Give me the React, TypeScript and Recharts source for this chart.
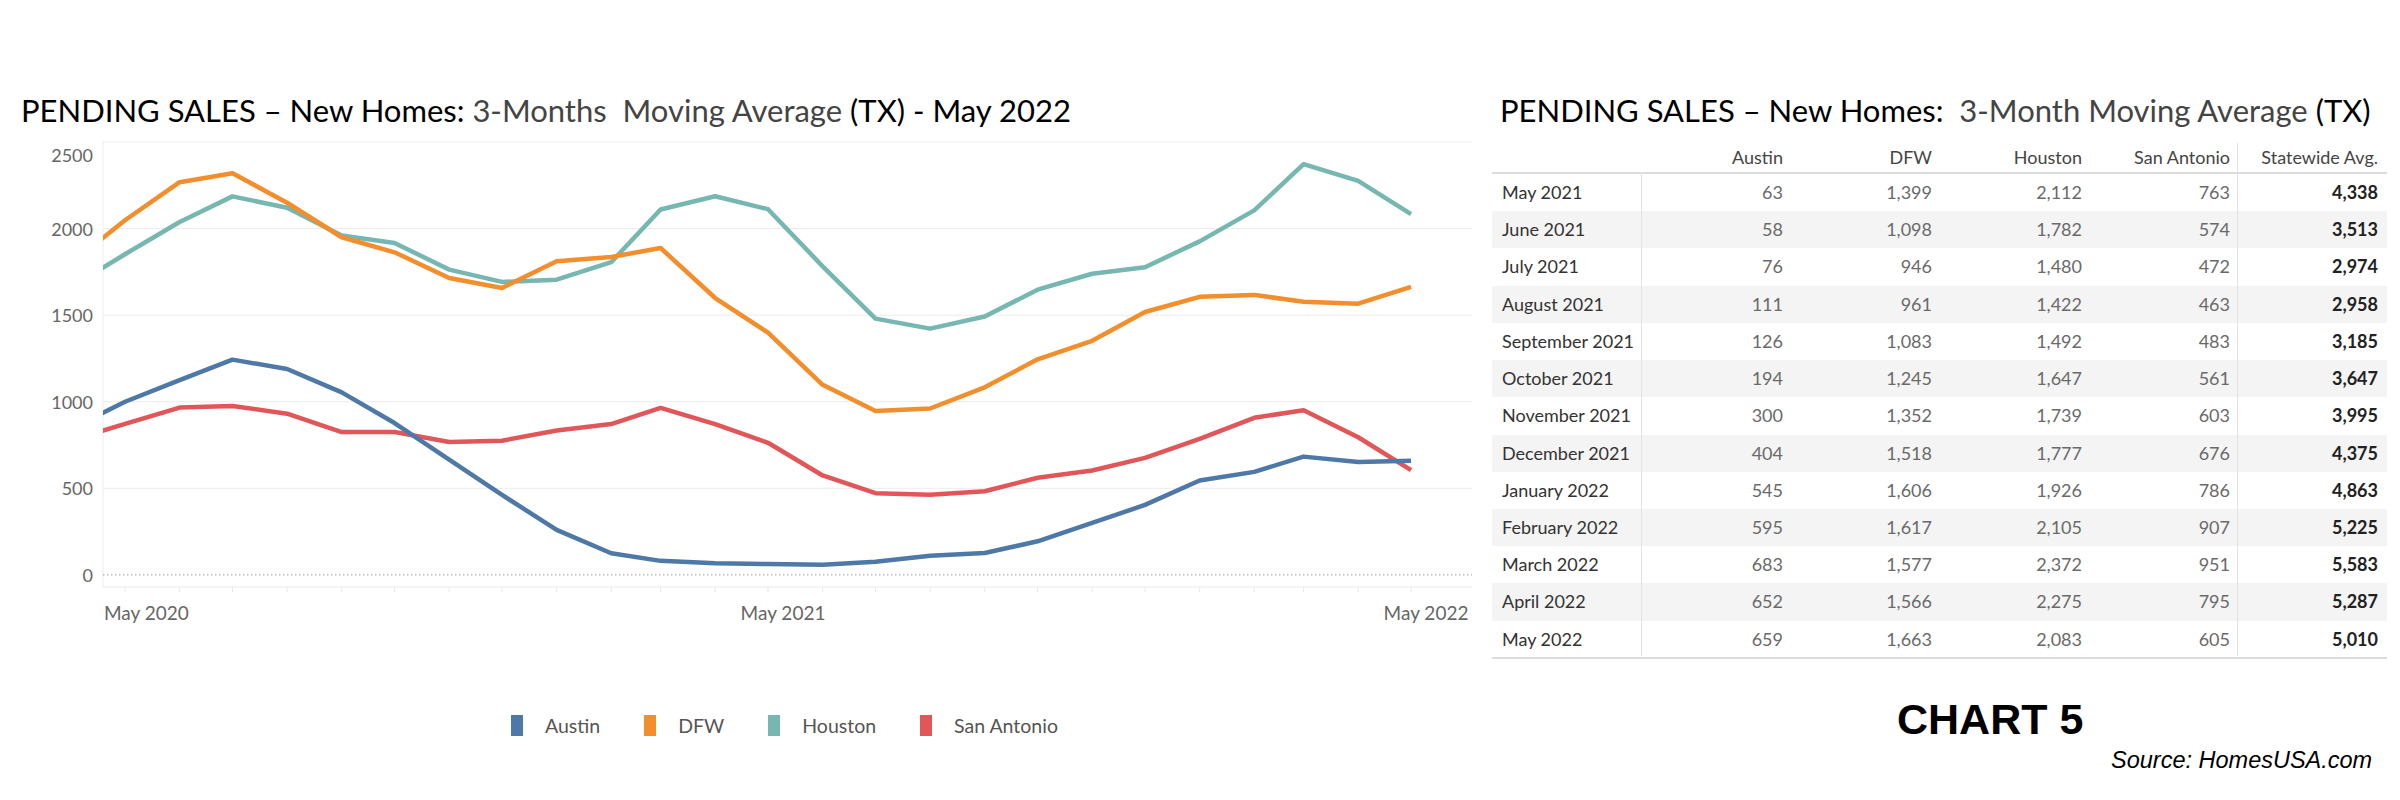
import React from 'react';
import { LineChart, Line, XAxis, YAxis, CartesianGrid, ReferenceLine } from 'recharts';

// monthly 3-month moving averages, Apr 2020 .. May 2022 (Apr 2020 sits just off the left edge)
const months = [
  '2020-04', '2020-05', '2020-06', '2020-07', '2020-08', '2020-09', '2020-10', '2020-11', '2020-12',
  '2021-01', '2021-02', '2021-03', '2021-04', '2021-05', '2021-06', '2021-07', '2021-08', '2021-09',
  '2021-10', '2021-11', '2021-12', '2022-01', '2022-02', '2022-03', '2022-04', '2022-05',
];
const austin = [848, 1000, 1125, 1243, 1189, 1054, 877, 665, 462, 260, 125, 81, 67, 63, 58, 76, 111, 126, 194, 300, 404, 545, 595, 683, 652, 659];
const dfw = [1803, 2048, 2268, 2320, 2149, 1950, 1863, 1715, 1657, 1811, 1836, 1888, 1599, 1399, 1098, 946, 961, 1083, 1245, 1352, 1518, 1606, 1617, 1577, 1566, 1663];
const houston = [1667, 1852, 2038, 2186, 2120, 1960, 1917, 1763, 1692, 1705, 1806, 2110, 2187, 2112, 1782, 1480, 1422, 1492, 1647, 1739, 1777, 1926, 2105, 2372, 2275, 2083];
const sanAntonio = [778, 872, 966, 975, 931, 825, 825, 767, 775, 834, 871, 964, 871, 763, 574, 472, 463, 483, 561, 603, 676, 786, 907, 951, 795, 605];

const yTicks = [0, 500, 1000, 1500, 2000, 2500];
const xLabelMonths = ['2020-05', '2021-05', '2022-05'];
const xLabels = ['May 2020', 'May 2021', 'May 2022'];

// table on the right (last 13 months)
const tableMonths = [
  'May 2021', 'June 2021', 'July 2021', 'August 2021', 'September 2021', 'October 2021',
  'November 2021', 'December 2021', 'January 2022', 'February 2022', 'March 2022', 'April 2022', 'May 2022',
];
const tableHeaders = ['Austin', 'DFW', 'Houston', 'San Antonio', 'Statewide Avg.'];
const statewide = [4338, 3513, 2974, 2958, 3185, 3647, 3995, 4375, 4863, 5225, 5583, 5287, 5010];

const series = [
  { key: 'sanAntonio', name: 'San Antonio', color: '#e15759', values: sanAntonio },
  { key: 'houston', name: 'Houston', color: '#76b7b2', values: houston },
  { key: 'dfw', name: 'DFW', color: '#f28e2b', values: dfw },
  { key: 'austin', name: 'Austin', color: '#4e79a7', values: austin },
];
const legendOrder = ['austin', 'dfw', 'houston', 'sanAntonio'];

const DAY = 86400000;
const toDay = (m: string) => {
  const [y, mo] = m.split('-').map(Number);
  return Date.UTC(y, mo - 1, 1) / DAY;
};

const data = months.map((m, i) => {
  const row: any = { t: toDay(m) };
  series.forEach((s) => { row[s.key] = s.values[i]; });
  return row;
});

const xDomain = [toDay('2020-05') - 12.5, toDay('2022-05') + 34.6];
const xTicks = months.map(toDay).filter((t) => t >= xDomain[0]);

const FONT = 'Lato, "Noto Sans", sans-serif';
const fmt = (n: number) => n.toLocaleString('en-US');

const XTick = (props: any) => {
  const { x, payload } = props;
  const idx = xLabelMonths.findIndex((m) => toDay(m) === payload.value);
  if (idx < 0) return <g />;
  const first = idx === 0;
  return (
    <text x={first ? 104 : x + 15} y={612} textAnchor={first ? 'start' : 'middle'}
      dominantBaseline="central" fill="#666" fontSize={19} fontFamily={FONT}>
      {xLabels[idx]}
    </text>
  );
};

const YTick = (props: any) => {
  const { y, payload } = props;
  const top = payload.value === 2500;
  return (
    <text x={93} y={y + (top ? 13 : 0)} textAnchor="end" dominantBaseline="central"
      fill="#666" fontSize={18} fontFamily={FONT}>
      {payload.value}
    </text>
  );
};

const colW = [149, 149, 149, 150, 148, 150];
const ROW_H = 37.23;

const Table = () => {
  const tableCols = [austin, dfw, houston, sanAntonio].map((a) => a.slice(-13));
  const cell = (w: number, align: 'left' | 'right', pad: number): React.CSSProperties => ({
    width: w, boxSizing: 'border-box', textAlign: align,
    paddingLeft: align === 'left' ? pad : 0, paddingRight: align === 'right' ? pad : 0,
    whiteSpace: 'nowrap',
  });
  return (
    <div style={{ position: 'absolute', left: 1492, top: 143, width: 895, fontFamily: FONT, fontSize: 18 }}>
      <div style={{ display: 'flex', height: 29, lineHeight: '29px', color: '#444' }}>
        <div style={cell(colW[0], 'left', 10)} />
        {tableHeaders.map((h, i) => (
          <div key={h} style={cell(colW[i + 1], 'right', i === 4 ? 9 : 7)}>{h}</div>
        ))}
      </div>
      <div style={{ height: 2, background: '#dcdcdc' }} />
      {tableMonths.map((m, r) => (
        <div key={m} style={{
          display: 'flex', height: ROW_H, lineHeight: `${ROW_H}px`,
          background: r % 2 === 1 ? '#f4f4f4' : '#fff',
        }}>
          <div style={{ ...cell(colW[0], 'left', 10), color: '#333' }}>{m}</div>
          {tableCols.map((col, c) => (
            <div key={c} style={{ ...cell(colW[c + 1], 'right', 7), color: '#6a6a6a' }}>{fmt(col[r])}</div>
          ))}
          <div style={{ ...cell(colW[5], 'right', 9), color: '#222', fontWeight: 700 }}>{fmt(statewide[r])}</div>
        </div>
      ))}
      <div style={{ height: 2, background: '#dcdcdc', marginTop: -1 }} />
      <div style={{ position: 'absolute', left: colW[0], top: 29, width: 1, height: 484, background: '#e2e2e2' }} />
      <div style={{ position: 'absolute', left: 745, top: 0, width: 1, height: 513, background: '#e2e2e2' }} />
    </div>
  );
};

const Title = ({ left, parts }: { left: number; parts: [string, string][] }) => (
  <div style={{
    position: 'absolute', left, top: 90, height: 40, lineHeight: '40px',
    fontFamily: FONT, fontSize: 31, whiteSpace: 'pre',
  }}>
    {parts.map(([t, c], i) => <span key={i} style={{ color: c }}>{t}</span>)}
  </div>
);

export default function App() {
  return (
    <div style={{ position: 'absolute', left: 0, top: 0, width: 2400, height: 800, background: '#fff', overflow: 'hidden' }}>
      <Title left={21} parts={[
        ['PENDING SALES – New Homes: ', '#000'],
        ['3-Months  Moving Average', '#444'],
        [' (TX) - May 2022', '#000'],
      ]} />
      <Title left={1500} parts={[
        ['PENDING SALES – New Homes:  ', '#000'],
        ['3-Month Moving Average', '#444'],
        [' (TX)', '#000'],
      ]} />

      <div style={{ position: 'absolute', left: 0, top: 0 }}>
        <LineChart width={1500} height={660} data={data} margin={{ top: 142, right: 28, bottom: 13, left: 13 }}>
          <CartesianGrid vertical={false} horizontalValues={[500, 1000, 1500, 2000, 2500]} stroke="#ebebeb" />
          <XAxis dataKey="t" type="number" domain={xDomain} allowDataOverflow ticks={xTicks}
            height={60} tick={<XTick />} tickSize={5} tickLine={{ stroke: '#e8e8e8' }}
            axisLine={{ stroke: '#e8e8e8' }} interval={0} />
          <YAxis type="number" domain={[-70, 2500]} allowDataOverflow ticks={yTicks} width={90}
            tick={<YTick />} axisLine={false} tickLine={false} interval={0} />
          <ReferenceLine x={xDomain[0]} stroke="#ededed" />
          <ReferenceLine y={0} stroke="#9a9a9a" strokeDasharray="1.5 2.5" />
          {series.map((s) => (
            <Line key={s.key} dataKey={s.key} name={s.name} type="linear" stroke={s.color}
              strokeWidth={4.5} strokeLinejoin="round" dot={false} activeDot={false}
              isAnimationActive={false} />
          ))}
        </LineChart>
      </div>

      <div style={{
        position: 'absolute', left: 511, top: 714, display: 'flex', alignItems: 'center',
        fontFamily: FONT, fontSize: 19.5, color: '#555', height: 22,
      }}>
        {legendOrder.map((k) => {
          const s = series.find((x) => x.key === k)!;
          return (
            <div key={k} style={{ display: 'flex', alignItems: 'center', marginRight: 44 }}>
              <div style={{ width: 12, height: 21, background: s.color, marginRight: 22 }} />
              <span>{s.name}</span>
            </div>
          );
        })}
      </div>

      <Table />

      <div style={{
        position: 'absolute', left: 1897, top: 698, fontFamily: '"Liberation Sans", Arial, sans-serif',
        fontWeight: 700, fontSize: 43, lineHeight: '43px', color: '#000', whiteSpace: 'nowrap',
      }}>CHART 5</div>
      <div style={{
        position: 'absolute', left: 2111, top: 749, fontFamily: '"Liberation Sans", Arial, sans-serif',
        fontStyle: 'italic', fontSize: 23.5, lineHeight: '23.5px', color: '#000', whiteSpace: 'nowrap',
      }}>Source: HomesUSA.com</div>
    </div>
  );
}
